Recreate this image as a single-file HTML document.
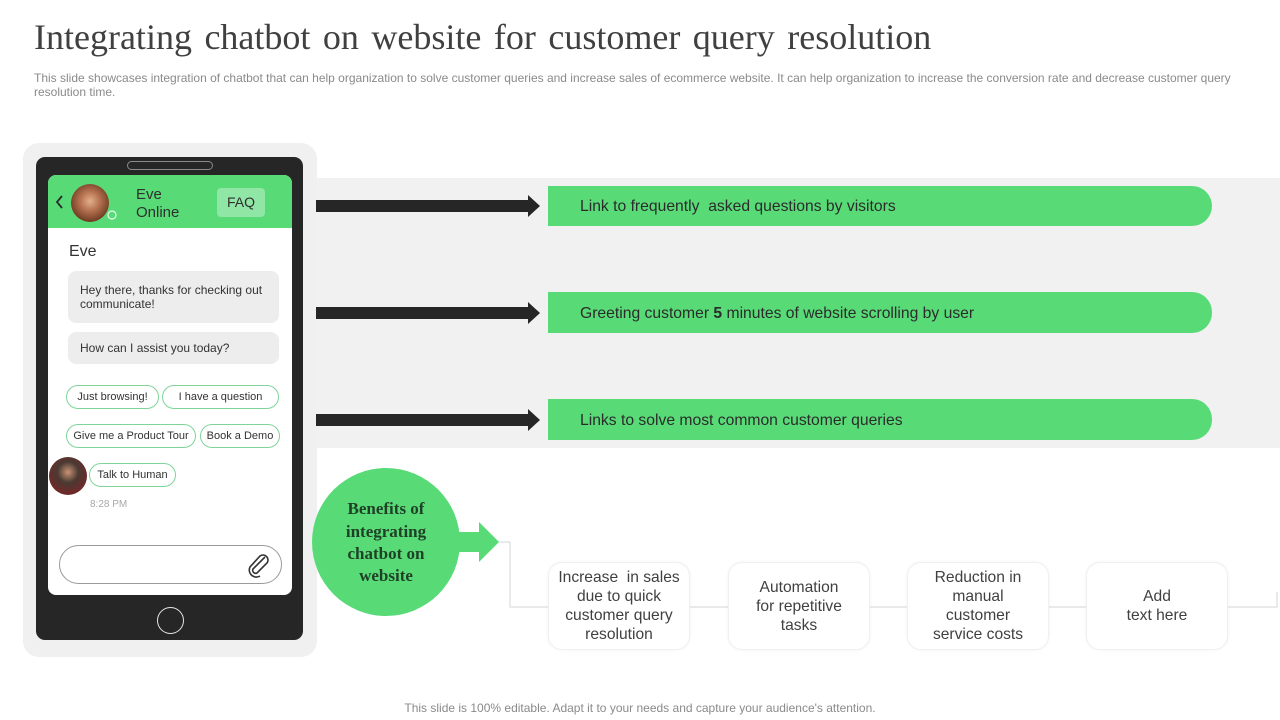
<!DOCTYPE html>
<html><head><meta charset="utf-8">
<style>
*{margin:0;padding:0;box-sizing:border-box}
body{width:1280px;height:720px;position:relative;background:#fff;overflow:hidden;font-family:"Liberation Sans",Arial,sans-serif;color:#404040}
.a{position:absolute}
.title{left:34px;top:16px;font-family:"Liberation Serif","Times New Roman",serif;font-size:36px;color:#404040;white-space:nowrap;word-spacing:3.5px}
.sub{left:34px;top:71px;font-size:12px;color:#8a8a8a;line-height:14px;white-space:nowrap;letter-spacing:0px}
.bar{background:#58db77;height:40px;left:548px;width:664px;border-radius:0 20px 20px 0;font-size:15.7px;color:#2b2b2b;line-height:42px;padding-left:32px}
.chip{border:1px solid #7fd49a;border-radius:13px;height:24px;font-size:11px;line-height:22px;text-align:center;color:#333;background:#fff}
.box{border:1px solid #f0f0f0;border-radius:14px;background:#fff;box-shadow:0 0 3px rgba(0,0,0,0.06);font-size:15.6px;line-height:19px;color:#404040;text-align:center;display:flex;align-items:center;justify-content:center;width:142px;height:88px;top:562px}
</style></head><body>
<div class="a title">Integrating chatbot on website for customer query resolution</div>
<div class="a sub">This slide showcases integration of chatbot that can help organization to solve customer queries and increase sales of ecommerce website. It can help organization to increase the conversion rate and decrease customer query<br>resolution time.</div>

<!-- gray band -->
<div class="a" style="left:316px;top:178px;width:964px;height:270px;background:#f1f1f1"></div>

<div class="a bar" style="top:186px">Link to frequently &nbsp;asked questions by visitors</div>
<div class="a bar" style="top:292px;height:41px;line-height:43px">Greeting customer <b>5</b> minutes of website scrolling by user</div>
<div class="a bar" style="top:399px;height:41px;line-height:43px">Links to solve most common customer queries</div>

<!-- phone -->
<div class="a" style="left:23px;top:143px;width:294px;height:514px;background:#f0f0f0;border-radius:16px"></div>
<div class="a" style="left:36px;top:157px;width:267px;height:483px;background:#262626;border-radius:9px"></div>
<div class="a" style="left:127px;top:161px;width:86px;height:9px;border:1px solid #8a8a8a;border-radius:5px"></div>
<div class="a" style="left:48px;top:175px;width:244px;height:420px;background:#fff;border-radius:8px;overflow:hidden">
  <div style="height:53px;background:#58db77"></div>
</div>
<div class="a" style="left:157px;top:607px;width:27px;height:27px;border:1.5px solid #e6e6e6;border-radius:50%"></div>

<svg class="a" style="left:0;top:0" width="1280" height="720">
  <!-- black arrows -->
  <g fill="#262626">
    <rect x="316" y="200" width="214" height="12"/>
    <polygon points="528,195 540,206 528,217"/>
    <rect x="316" y="307" width="214" height="12"/>
    <polygon points="528,302 540,313 528,324"/>
    <rect x="316" y="414" width="214" height="12"/>
    <polygon points="528,409 540,420 528,431"/>
  </g>
  <!-- connector -->
  <polyline points="499,542 510,542 510,607 1277,607 1277,592" fill="none" stroke="#d6d6d6" stroke-width="1"/>
  <!-- green circle + arrow -->
  <rect x="440" y="532" width="42" height="20" fill="#58db77"/>
  <polygon points="479,522 499,542 479,562" fill="#58db77"/>
  <circle cx="386" cy="542" r="74" fill="#58db77"/>
  <text x="386" y="514" text-anchor="middle" font-family="Liberation Serif,serif" font-weight="bold" font-size="17" fill="#1f3f26">Benefits of</text>
  <text x="386" y="537" text-anchor="middle" font-family="Liberation Serif,serif" font-weight="bold" font-size="17" fill="#1f3f26">integrating</text>
  <text x="386" y="559" text-anchor="middle" font-family="Liberation Serif,serif" font-weight="bold" font-size="17" fill="#1f3f26">chatbot on</text>
  <text x="386" y="581" text-anchor="middle" font-family="Liberation Serif,serif" font-weight="bold" font-size="17" fill="#1f3f26">website</text>
</svg>

<div class="a box" style="left:548px">Increase &nbsp;in sales<br>due to quick<br>customer query<br>resolution</div>
<div class="a box" style="left:728px">Automation<br>for repetitive<br>tasks</div>
<div class="a box" style="left:907px">Reduction in<br>manual<br>customer<br>service costs</div>
<div class="a box" style="left:1086px">Add<br>text here</div>

<!-- header -->
<svg class="a" style="left:48px;top:175px" width="244" height="53">
  <polyline points="14,21 9,27 14,33" fill="none" stroke="#2b2b2b" stroke-width="1.8"/>
  <defs>
    <radialGradient id="av1" cx="50%" cy="45%" r="55%">
      <stop offset="0" stop-color="#e3b08e"/><stop offset="0.45" stop-color="#b87452"/><stop offset="1" stop-color="#6e3a22"/>
    </radialGradient>
  </defs>
  <circle cx="42" cy="28" r="19" fill="url(#av1)"/>
  <circle cx="64" cy="40" r="4" fill="#58db77" stroke="#e8f8ec" stroke-width="1.2"/>
  <rect x="169" y="13" width="48" height="29" rx="4" fill="#8fe6a5"/>
</svg>
<div class="a" style="left:136px;top:186px;font-size:15px;color:#2f2f2f;line-height:18px">Eve<br>Online</div>
<div class="a" style="left:217px;top:188px;width:48px;height:29px;font-size:14px;line-height:29px;text-align:center;color:#2f2f2f">FAQ</div>

<div class="a" style="left:69px;top:243px;font-size:16px;color:#333">Eve</div>
<div class="a" style="left:68px;top:271px;width:211px;height:52px;background:#ededed;border-radius:8px;font-size:12px;line-height:14px;padding:12px 0 0 12px;color:#333">Hey there, thanks for checking out<br>communicate!</div>
<div class="a" style="left:68px;top:332px;width:211px;height:32px;background:#ededed;border-radius:8px;font-size:12px;line-height:32px;padding-left:12px;color:#333">How can I assist you today?</div>

<div class="a chip" style="left:66px;top:385px;width:93px">Just browsing!</div>
<div class="a chip" style="left:162px;top:385px;width:117px">I have a question</div>
<div class="a chip" style="left:66px;top:424px;width:130px">Give me a Product Tour</div>
<div class="a chip" style="left:200px;top:424px;width:80px">Book a Demo</div>
<div class="a chip" style="left:89px;top:463px;width:87px">Talk to Human</div>
<svg class="a" style="left:48px;top:456px" width="40" height="40">
  <defs><radialGradient id="av2b" cx="50%" cy="40%" r="55%"><stop offset="0" stop-color="#c99274"/><stop offset="0.5" stop-color="#4a3a32"/><stop offset="1" stop-color="#6e2a2a"/></radialGradient></defs>
  <circle cx="20" cy="20" r="19" fill="url(#av2b)"/>
</svg>
<div class="a" style="left:90px;top:499px;font-size:10px;color:#a8a8a8">8:28 PM</div>

<div class="a" style="left:59px;top:545px;width:223px;height:39px;border:1px solid #9a9a9a;border-radius:20px"></div>
<svg class="a" style="left:245px;top:552px" width="28" height="26">
  <path d="M20,5 L8,17 a3,3 0 0 0 4,4 L22,11 a5,5 0 0 0 -7,-7 L5,15 a7,7 0 0 0 10,9" fill="none" stroke="#333" stroke-width="1.6"/>
</svg>

<div class="a" style="left:0;width:1280px;top:701px;text-align:center;font-size:12px;color:#8a8a8a">This slide is 100% editable. Adapt it to your needs and capture your audience's attention.</div>
</body></html>
